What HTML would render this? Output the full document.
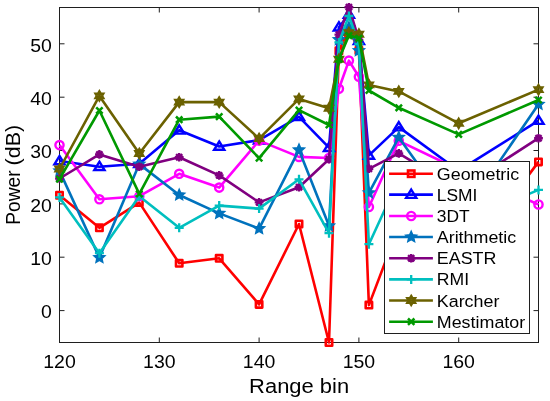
<!DOCTYPE html>
<html><head><meta charset="utf-8"><title>Range bin power</title>
<style>html,body{margin:0;padding:0;background:#fff;}svg{display:block;}text{font-family:"Liberation Sans",Arial,sans-serif;fill:#000;}</style></head><body>
<svg width="550" height="401" viewBox="0 0 550 401">
<rect width="550" height="401" fill="#fff"/>
<rect x="59.5" y="7.5" width="479.0" height="335.0" fill="none" stroke="#1f1f1f" stroke-width="1"/>
<path d="M59.5,342.5 v-5 M59.5,7.5 v5 M159.3,342.5 v-5 M159.3,7.5 v5 M259.1,342.5 v-5 M259.1,7.5 v5 M358.9,342.5 v-5 M358.9,7.5 v5 M458.7,342.5 v-5 M458.7,7.5 v5 M59.5,310.6 h5 M538.5,310.6 h-5 M59.5,257.2 h5 M538.5,257.2 h-5 M59.5,203.9 h5 M538.5,203.9 h-5 M59.5,150.5 h5 M538.5,150.5 h-5 M59.5,97.2 h5 M538.5,97.2 h-5 M59.5,43.8 h5 M538.5,43.8 h-5" stroke="#1f1f1f" stroke-width="1" fill="none"/>
<g fill="none" stroke-linejoin="round" stroke-linecap="butt">
<polyline points="59.5,195.2 99.4,227.8 139.3,202.6 179.2,263.3 219.2,258.3 259.1,304.4 299.0,224.0 329.0,342.5 338.9,50.8 348.9,29.0 358.9,50.5 368.9,305.1 398.8,226.4 458.7,268.8 538.5,161.9" stroke="#ff0000" stroke-width="2.6" fill="none"/>
<rect transform="translate(59.5,195.2)" x="-3.2" y="-3.2" width="6.4" height="6.4" fill="none" stroke="#ff0000" stroke-width="2.6"/>
<rect transform="translate(99.4,227.8)" x="-3.2" y="-3.2" width="6.4" height="6.4" fill="none" stroke="#ff0000" stroke-width="2.6"/>
<rect transform="translate(139.3,202.6)" x="-3.2" y="-3.2" width="6.4" height="6.4" fill="none" stroke="#ff0000" stroke-width="2.6"/>
<rect transform="translate(179.2,263.3)" x="-3.2" y="-3.2" width="6.4" height="6.4" fill="none" stroke="#ff0000" stroke-width="2.6"/>
<rect transform="translate(219.2,258.3)" x="-3.2" y="-3.2" width="6.4" height="6.4" fill="none" stroke="#ff0000" stroke-width="2.6"/>
<rect transform="translate(259.1,304.4)" x="-3.2" y="-3.2" width="6.4" height="6.4" fill="none" stroke="#ff0000" stroke-width="2.6"/>
<rect transform="translate(299.0,224.0)" x="-3.2" y="-3.2" width="6.4" height="6.4" fill="none" stroke="#ff0000" stroke-width="2.6"/>
<rect transform="translate(329.0,342.5)" x="-3.2" y="-3.2" width="6.4" height="6.4" fill="none" stroke="#ff0000" stroke-width="2.6"/>
<rect transform="translate(338.9,50.8)" x="-3.2" y="-3.2" width="6.4" height="6.4" fill="none" stroke="#ff0000" stroke-width="2.6"/>
<rect transform="translate(348.9,29.0)" x="-3.2" y="-3.2" width="6.4" height="6.4" fill="none" stroke="#ff0000" stroke-width="2.6"/>
<rect transform="translate(358.9,50.5)" x="-3.2" y="-3.2" width="6.4" height="6.4" fill="none" stroke="#ff0000" stroke-width="2.6"/>
<rect transform="translate(368.9,305.1)" x="-3.2" y="-3.2" width="6.4" height="6.4" fill="none" stroke="#ff0000" stroke-width="2.6"/>
<rect transform="translate(398.8,226.4)" x="-3.2" y="-3.2" width="6.4" height="6.4" fill="none" stroke="#ff0000" stroke-width="2.6"/>
<rect transform="translate(458.7,268.8)" x="-3.2" y="-3.2" width="6.4" height="6.4" fill="none" stroke="#ff0000" stroke-width="2.6"/>
<rect transform="translate(538.5,161.9)" x="-3.2" y="-3.2" width="6.4" height="6.4" fill="none" stroke="#ff0000" stroke-width="2.6"/>
<polyline points="59.5,161.0 99.4,166.7 139.3,163.7 179.2,130.3 219.2,146.5 259.1,140.2 299.0,116.8 329.0,147.7 338.9,27.2 348.9,14.5 358.9,40.7 368.9,155.4 398.8,127.1 458.7,170.7 538.5,120.6" stroke="#0000ff" stroke-width="2.6" fill="none"/>
<path transform="translate(59.5,161.0)" d="M0,-5.0 L5.1,3.3 L-5.1,3.3 Z" fill="none" stroke="#0000ff" stroke-width="2.4" stroke-linejoin="miter"/>
<path transform="translate(99.4,166.7)" d="M0,-5.0 L5.1,3.3 L-5.1,3.3 Z" fill="none" stroke="#0000ff" stroke-width="2.4" stroke-linejoin="miter"/>
<path transform="translate(139.3,163.7)" d="M0,-5.0 L5.1,3.3 L-5.1,3.3 Z" fill="none" stroke="#0000ff" stroke-width="2.4" stroke-linejoin="miter"/>
<path transform="translate(179.2,130.3)" d="M0,-5.0 L5.1,3.3 L-5.1,3.3 Z" fill="none" stroke="#0000ff" stroke-width="2.4" stroke-linejoin="miter"/>
<path transform="translate(219.2,146.5)" d="M0,-5.0 L5.1,3.3 L-5.1,3.3 Z" fill="none" stroke="#0000ff" stroke-width="2.4" stroke-linejoin="miter"/>
<path transform="translate(259.1,140.2)" d="M0,-5.0 L5.1,3.3 L-5.1,3.3 Z" fill="none" stroke="#0000ff" stroke-width="2.4" stroke-linejoin="miter"/>
<path transform="translate(299.0,116.8)" d="M0,-5.0 L5.1,3.3 L-5.1,3.3 Z" fill="none" stroke="#0000ff" stroke-width="2.4" stroke-linejoin="miter"/>
<path transform="translate(329.0,147.7)" d="M0,-5.0 L5.1,3.3 L-5.1,3.3 Z" fill="none" stroke="#0000ff" stroke-width="2.4" stroke-linejoin="miter"/>
<path transform="translate(338.9,27.2)" d="M0,-5.0 L5.1,3.3 L-5.1,3.3 Z" fill="none" stroke="#0000ff" stroke-width="2.4" stroke-linejoin="miter"/>
<path transform="translate(348.9,14.5)" d="M0,-5.0 L5.1,3.3 L-5.1,3.3 Z" fill="none" stroke="#0000ff" stroke-width="2.4" stroke-linejoin="miter"/>
<path transform="translate(358.9,40.7)" d="M0,-5.0 L5.1,3.3 L-5.1,3.3 Z" fill="none" stroke="#0000ff" stroke-width="2.4" stroke-linejoin="miter"/>
<path transform="translate(368.9,155.4)" d="M0,-5.0 L5.1,3.3 L-5.1,3.3 Z" fill="none" stroke="#0000ff" stroke-width="2.4" stroke-linejoin="miter"/>
<path transform="translate(398.8,127.1)" d="M0,-5.0 L5.1,3.3 L-5.1,3.3 Z" fill="none" stroke="#0000ff" stroke-width="2.4" stroke-linejoin="miter"/>
<path transform="translate(458.7,170.7)" d="M0,-5.0 L5.1,3.3 L-5.1,3.3 Z" fill="none" stroke="#0000ff" stroke-width="2.4" stroke-linejoin="miter"/>
<path transform="translate(538.5,120.6)" d="M0,-5.0 L5.1,3.3 L-5.1,3.3 Z" fill="none" stroke="#0000ff" stroke-width="2.4" stroke-linejoin="miter"/>
<polyline points="59.5,145.1 99.4,199.3 139.3,196.2 179.2,173.8 219.2,187.6 259.1,140.6 299.0,156.9 329.0,158.0 338.9,88.7 348.9,60.6 358.9,76.8 368.9,207.0 398.8,140.8 458.7,169.5 538.5,204.5" stroke="#ff00ff" stroke-width="2.6" fill="none"/>
<circle transform="translate(59.5,145.1)" r="4.1" fill="none" stroke="#ff00ff" stroke-width="2.4"/>
<circle transform="translate(99.4,199.3)" r="4.1" fill="none" stroke="#ff00ff" stroke-width="2.4"/>
<circle transform="translate(139.3,196.2)" r="4.1" fill="none" stroke="#ff00ff" stroke-width="2.4"/>
<circle transform="translate(179.2,173.8)" r="4.1" fill="none" stroke="#ff00ff" stroke-width="2.4"/>
<circle transform="translate(219.2,187.6)" r="4.1" fill="none" stroke="#ff00ff" stroke-width="2.4"/>
<circle transform="translate(259.1,140.6)" r="4.1" fill="none" stroke="#ff00ff" stroke-width="2.4"/>
<circle transform="translate(299.0,156.9)" r="4.1" fill="none" stroke="#ff00ff" stroke-width="2.4"/>
<circle transform="translate(329.0,158.0)" r="4.1" fill="none" stroke="#ff00ff" stroke-width="2.4"/>
<circle transform="translate(338.9,88.7)" r="4.1" fill="none" stroke="#ff00ff" stroke-width="2.4"/>
<circle transform="translate(348.9,60.6)" r="4.1" fill="none" stroke="#ff00ff" stroke-width="2.4"/>
<circle transform="translate(358.9,76.8)" r="4.1" fill="none" stroke="#ff00ff" stroke-width="2.4"/>
<circle transform="translate(368.9,207.0)" r="4.1" fill="none" stroke="#ff00ff" stroke-width="2.4"/>
<circle transform="translate(398.8,140.8)" r="4.1" fill="none" stroke="#ff00ff" stroke-width="2.4"/>
<circle transform="translate(458.7,169.5)" r="4.1" fill="none" stroke="#ff00ff" stroke-width="2.4"/>
<circle transform="translate(538.5,204.5)" r="4.1" fill="none" stroke="#ff00ff" stroke-width="2.4"/>
<polyline points="59.5,170.9 99.4,257.6 139.3,164.1 179.2,195.0 219.2,213.4 259.1,228.6 299.0,149.9 329.0,225.8 338.9,39.6 348.9,27.5 358.9,50.6 368.9,192.8 398.8,137.4 458.7,221.0 538.5,104.3" stroke="#0072bd" stroke-width="2.6" fill="none"/>
<polygon transform="translate(59.5,170.9)" points="0.00,-5.80 1.59,-2.18 5.52,-1.79 2.57,0.83 3.41,4.69 0.00,2.70 -3.41,4.69 -2.57,0.83 -5.52,-1.79 -1.59,-2.18" fill="#0072bd" stroke="#0072bd" stroke-width="1.4" stroke-linejoin="miter"/>
<polygon transform="translate(99.4,257.6)" points="0.00,-5.80 1.59,-2.18 5.52,-1.79 2.57,0.83 3.41,4.69 0.00,2.70 -3.41,4.69 -2.57,0.83 -5.52,-1.79 -1.59,-2.18" fill="#0072bd" stroke="#0072bd" stroke-width="1.4" stroke-linejoin="miter"/>
<polygon transform="translate(139.3,164.1)" points="0.00,-5.80 1.59,-2.18 5.52,-1.79 2.57,0.83 3.41,4.69 0.00,2.70 -3.41,4.69 -2.57,0.83 -5.52,-1.79 -1.59,-2.18" fill="#0072bd" stroke="#0072bd" stroke-width="1.4" stroke-linejoin="miter"/>
<polygon transform="translate(179.2,195.0)" points="0.00,-5.80 1.59,-2.18 5.52,-1.79 2.57,0.83 3.41,4.69 0.00,2.70 -3.41,4.69 -2.57,0.83 -5.52,-1.79 -1.59,-2.18" fill="#0072bd" stroke="#0072bd" stroke-width="1.4" stroke-linejoin="miter"/>
<polygon transform="translate(219.2,213.4)" points="0.00,-5.80 1.59,-2.18 5.52,-1.79 2.57,0.83 3.41,4.69 0.00,2.70 -3.41,4.69 -2.57,0.83 -5.52,-1.79 -1.59,-2.18" fill="#0072bd" stroke="#0072bd" stroke-width="1.4" stroke-linejoin="miter"/>
<polygon transform="translate(259.1,228.6)" points="0.00,-5.80 1.59,-2.18 5.52,-1.79 2.57,0.83 3.41,4.69 0.00,2.70 -3.41,4.69 -2.57,0.83 -5.52,-1.79 -1.59,-2.18" fill="#0072bd" stroke="#0072bd" stroke-width="1.4" stroke-linejoin="miter"/>
<polygon transform="translate(299.0,149.9)" points="0.00,-5.80 1.59,-2.18 5.52,-1.79 2.57,0.83 3.41,4.69 0.00,2.70 -3.41,4.69 -2.57,0.83 -5.52,-1.79 -1.59,-2.18" fill="#0072bd" stroke="#0072bd" stroke-width="1.4" stroke-linejoin="miter"/>
<polygon transform="translate(329.0,225.8)" points="0.00,-5.80 1.59,-2.18 5.52,-1.79 2.57,0.83 3.41,4.69 0.00,2.70 -3.41,4.69 -2.57,0.83 -5.52,-1.79 -1.59,-2.18" fill="#0072bd" stroke="#0072bd" stroke-width="1.4" stroke-linejoin="miter"/>
<polygon transform="translate(338.9,39.6)" points="0.00,-5.80 1.59,-2.18 5.52,-1.79 2.57,0.83 3.41,4.69 0.00,2.70 -3.41,4.69 -2.57,0.83 -5.52,-1.79 -1.59,-2.18" fill="#0072bd" stroke="#0072bd" stroke-width="1.4" stroke-linejoin="miter"/>
<polygon transform="translate(348.9,27.5)" points="0.00,-5.80 1.59,-2.18 5.52,-1.79 2.57,0.83 3.41,4.69 0.00,2.70 -3.41,4.69 -2.57,0.83 -5.52,-1.79 -1.59,-2.18" fill="#0072bd" stroke="#0072bd" stroke-width="1.4" stroke-linejoin="miter"/>
<polygon transform="translate(358.9,50.6)" points="0.00,-5.80 1.59,-2.18 5.52,-1.79 2.57,0.83 3.41,4.69 0.00,2.70 -3.41,4.69 -2.57,0.83 -5.52,-1.79 -1.59,-2.18" fill="#0072bd" stroke="#0072bd" stroke-width="1.4" stroke-linejoin="miter"/>
<polygon transform="translate(368.9,192.8)" points="0.00,-5.80 1.59,-2.18 5.52,-1.79 2.57,0.83 3.41,4.69 0.00,2.70 -3.41,4.69 -2.57,0.83 -5.52,-1.79 -1.59,-2.18" fill="#0072bd" stroke="#0072bd" stroke-width="1.4" stroke-linejoin="miter"/>
<polygon transform="translate(398.8,137.4)" points="0.00,-5.80 1.59,-2.18 5.52,-1.79 2.57,0.83 3.41,4.69 0.00,2.70 -3.41,4.69 -2.57,0.83 -5.52,-1.79 -1.59,-2.18" fill="#0072bd" stroke="#0072bd" stroke-width="1.4" stroke-linejoin="miter"/>
<polygon transform="translate(458.7,221.0)" points="0.00,-5.80 1.59,-2.18 5.52,-1.79 2.57,0.83 3.41,4.69 0.00,2.70 -3.41,4.69 -2.57,0.83 -5.52,-1.79 -1.59,-2.18" fill="#0072bd" stroke="#0072bd" stroke-width="1.4" stroke-linejoin="miter"/>
<polygon transform="translate(538.5,104.3)" points="0.00,-5.80 1.59,-2.18 5.52,-1.79 2.57,0.83 3.41,4.69 0.00,2.70 -3.41,4.69 -2.57,0.83 -5.52,-1.79 -1.59,-2.18" fill="#0072bd" stroke="#0072bd" stroke-width="1.4" stroke-linejoin="miter"/>
<polyline points="59.5,178.5 99.4,154.4 139.3,166.8 179.2,157.2 219.2,175.4 259.1,202.4 299.0,187.2 329.0,159.2 338.9,34.6 348.9,7.2 358.9,40.0 368.9,168.8 398.8,153.4 458.7,189.6 538.5,138.2" stroke="#800080" stroke-width="2.6" fill="none"/>
<path transform="translate(59.5,178.5)" d="M-4.4,0 H4.4 M0,-4.3 V4.3 M-3.1,-3.1 L3.1,3.1 M-3.1,3.1 L3.1,-3.1" fill="none" stroke="#800080" stroke-width="2.4"/>
<path transform="translate(99.4,154.4)" d="M-4.4,0 H4.4 M0,-4.3 V4.3 M-3.1,-3.1 L3.1,3.1 M-3.1,3.1 L3.1,-3.1" fill="none" stroke="#800080" stroke-width="2.4"/>
<path transform="translate(139.3,166.8)" d="M-4.4,0 H4.4 M0,-4.3 V4.3 M-3.1,-3.1 L3.1,3.1 M-3.1,3.1 L3.1,-3.1" fill="none" stroke="#800080" stroke-width="2.4"/>
<path transform="translate(179.2,157.2)" d="M-4.4,0 H4.4 M0,-4.3 V4.3 M-3.1,-3.1 L3.1,3.1 M-3.1,3.1 L3.1,-3.1" fill="none" stroke="#800080" stroke-width="2.4"/>
<path transform="translate(219.2,175.4)" d="M-4.4,0 H4.4 M0,-4.3 V4.3 M-3.1,-3.1 L3.1,3.1 M-3.1,3.1 L3.1,-3.1" fill="none" stroke="#800080" stroke-width="2.4"/>
<path transform="translate(259.1,202.4)" d="M-4.4,0 H4.4 M0,-4.3 V4.3 M-3.1,-3.1 L3.1,3.1 M-3.1,3.1 L3.1,-3.1" fill="none" stroke="#800080" stroke-width="2.4"/>
<path transform="translate(299.0,187.2)" d="M-4.4,0 H4.4 M0,-4.3 V4.3 M-3.1,-3.1 L3.1,3.1 M-3.1,3.1 L3.1,-3.1" fill="none" stroke="#800080" stroke-width="2.4"/>
<path transform="translate(329.0,159.2)" d="M-4.4,0 H4.4 M0,-4.3 V4.3 M-3.1,-3.1 L3.1,3.1 M-3.1,3.1 L3.1,-3.1" fill="none" stroke="#800080" stroke-width="2.4"/>
<path transform="translate(338.9,34.6)" d="M-4.4,0 H4.4 M0,-4.3 V4.3 M-3.1,-3.1 L3.1,3.1 M-3.1,3.1 L3.1,-3.1" fill="none" stroke="#800080" stroke-width="2.4"/>
<path transform="translate(348.9,7.2)" d="M-4.4,0 H4.4 M0,-4.3 V4.3 M-3.1,-3.1 L3.1,3.1 M-3.1,3.1 L3.1,-3.1" fill="none" stroke="#800080" stroke-width="2.4"/>
<path transform="translate(358.9,40.0)" d="M-4.4,0 H4.4 M0,-4.3 V4.3 M-3.1,-3.1 L3.1,3.1 M-3.1,3.1 L3.1,-3.1" fill="none" stroke="#800080" stroke-width="2.4"/>
<path transform="translate(368.9,168.8)" d="M-4.4,0 H4.4 M0,-4.3 V4.3 M-3.1,-3.1 L3.1,3.1 M-3.1,3.1 L3.1,-3.1" fill="none" stroke="#800080" stroke-width="2.4"/>
<path transform="translate(398.8,153.4)" d="M-4.4,0 H4.4 M0,-4.3 V4.3 M-3.1,-3.1 L3.1,3.1 M-3.1,3.1 L3.1,-3.1" fill="none" stroke="#800080" stroke-width="2.4"/>
<path transform="translate(458.7,189.6)" d="M-4.4,0 H4.4 M0,-4.3 V4.3 M-3.1,-3.1 L3.1,3.1 M-3.1,3.1 L3.1,-3.1" fill="none" stroke="#800080" stroke-width="2.4"/>
<path transform="translate(538.5,138.2)" d="M-4.4,0 H4.4 M0,-4.3 V4.3 M-3.1,-3.1 L3.1,3.1 M-3.1,3.1 L3.1,-3.1" fill="none" stroke="#800080" stroke-width="2.4"/>
<polyline points="59.5,197.4 99.4,253.2 139.3,196.2 179.2,227.8 219.2,205.6 259.1,208.6 299.0,179.3 329.0,233.2 338.9,42.4 348.9,16.0 358.9,44.0 368.9,244.2 398.8,179.2 458.7,224.0 538.5,189.9" stroke="#00bfbf" stroke-width="2.6" fill="none"/>
<path transform="translate(59.5,197.4)" d="M-4.5,0 H4.5 M0,-4.5 V4.5" fill="none" stroke="#00bfbf" stroke-width="2.3"/>
<path transform="translate(99.4,253.2)" d="M-4.5,0 H4.5 M0,-4.5 V4.5" fill="none" stroke="#00bfbf" stroke-width="2.3"/>
<path transform="translate(139.3,196.2)" d="M-4.5,0 H4.5 M0,-4.5 V4.5" fill="none" stroke="#00bfbf" stroke-width="2.3"/>
<path transform="translate(179.2,227.8)" d="M-4.5,0 H4.5 M0,-4.5 V4.5" fill="none" stroke="#00bfbf" stroke-width="2.3"/>
<path transform="translate(219.2,205.6)" d="M-4.5,0 H4.5 M0,-4.5 V4.5" fill="none" stroke="#00bfbf" stroke-width="2.3"/>
<path transform="translate(259.1,208.6)" d="M-4.5,0 H4.5 M0,-4.5 V4.5" fill="none" stroke="#00bfbf" stroke-width="2.3"/>
<path transform="translate(299.0,179.3)" d="M-4.5,0 H4.5 M0,-4.5 V4.5" fill="none" stroke="#00bfbf" stroke-width="2.3"/>
<path transform="translate(329.0,233.2)" d="M-4.5,0 H4.5 M0,-4.5 V4.5" fill="none" stroke="#00bfbf" stroke-width="2.3"/>
<path transform="translate(338.9,42.4)" d="M-4.5,0 H4.5 M0,-4.5 V4.5" fill="none" stroke="#00bfbf" stroke-width="2.3"/>
<path transform="translate(348.9,16.0)" d="M-4.5,0 H4.5 M0,-4.5 V4.5" fill="none" stroke="#00bfbf" stroke-width="2.3"/>
<path transform="translate(358.9,44.0)" d="M-4.5,0 H4.5 M0,-4.5 V4.5" fill="none" stroke="#00bfbf" stroke-width="2.3"/>
<path transform="translate(368.9,244.2)" d="M-4.5,0 H4.5 M0,-4.5 V4.5" fill="none" stroke="#00bfbf" stroke-width="2.3"/>
<path transform="translate(398.8,179.2)" d="M-4.5,0 H4.5 M0,-4.5 V4.5" fill="none" stroke="#00bfbf" stroke-width="2.3"/>
<path transform="translate(458.7,224.0)" d="M-4.5,0 H4.5 M0,-4.5 V4.5" fill="none" stroke="#00bfbf" stroke-width="2.3"/>
<path transform="translate(538.5,189.9)" d="M-4.5,0 H4.5 M0,-4.5 V4.5" fill="none" stroke="#00bfbf" stroke-width="2.3"/>
<polyline points="59.5,169.0 99.4,95.9 139.3,153.5 179.2,102.1 219.2,102.1 259.1,138.6 299.0,98.9 329.0,108.2 338.9,59.3 348.9,32.6 358.9,34.2 368.9,84.9 398.8,91.4 458.7,123.3 538.5,89.6" stroke="#6b6100" stroke-width="2.6" fill="none"/>
<polygon transform="translate(59.5,169.0)" points="0.00,-4.20 1.23,-2.12 3.64,-2.10 2.45,0.00 3.64,2.10 1.23,2.12 0.00,4.20 -1.22,2.12 -3.64,2.10 -2.45,0.00 -3.64,-2.10 -1.23,-2.12" fill="#6b6100" fill-opacity="0.6" stroke="#6b6100" stroke-width="2.7" stroke-linejoin="miter"/>
<polygon transform="translate(99.4,95.9)" points="0.00,-4.20 1.23,-2.12 3.64,-2.10 2.45,0.00 3.64,2.10 1.23,2.12 0.00,4.20 -1.22,2.12 -3.64,2.10 -2.45,0.00 -3.64,-2.10 -1.23,-2.12" fill="#6b6100" fill-opacity="0.6" stroke="#6b6100" stroke-width="2.7" stroke-linejoin="miter"/>
<polygon transform="translate(139.3,153.5)" points="0.00,-4.20 1.23,-2.12 3.64,-2.10 2.45,0.00 3.64,2.10 1.23,2.12 0.00,4.20 -1.22,2.12 -3.64,2.10 -2.45,0.00 -3.64,-2.10 -1.23,-2.12" fill="#6b6100" fill-opacity="0.6" stroke="#6b6100" stroke-width="2.7" stroke-linejoin="miter"/>
<polygon transform="translate(179.2,102.1)" points="0.00,-4.20 1.23,-2.12 3.64,-2.10 2.45,0.00 3.64,2.10 1.23,2.12 0.00,4.20 -1.22,2.12 -3.64,2.10 -2.45,0.00 -3.64,-2.10 -1.23,-2.12" fill="#6b6100" fill-opacity="0.6" stroke="#6b6100" stroke-width="2.7" stroke-linejoin="miter"/>
<polygon transform="translate(219.2,102.1)" points="0.00,-4.20 1.23,-2.12 3.64,-2.10 2.45,0.00 3.64,2.10 1.23,2.12 0.00,4.20 -1.22,2.12 -3.64,2.10 -2.45,0.00 -3.64,-2.10 -1.23,-2.12" fill="#6b6100" fill-opacity="0.6" stroke="#6b6100" stroke-width="2.7" stroke-linejoin="miter"/>
<polygon transform="translate(259.1,138.6)" points="0.00,-4.20 1.23,-2.12 3.64,-2.10 2.45,0.00 3.64,2.10 1.23,2.12 0.00,4.20 -1.22,2.12 -3.64,2.10 -2.45,0.00 -3.64,-2.10 -1.23,-2.12" fill="#6b6100" fill-opacity="0.6" stroke="#6b6100" stroke-width="2.7" stroke-linejoin="miter"/>
<polygon transform="translate(299.0,98.9)" points="0.00,-4.20 1.23,-2.12 3.64,-2.10 2.45,0.00 3.64,2.10 1.23,2.12 0.00,4.20 -1.22,2.12 -3.64,2.10 -2.45,0.00 -3.64,-2.10 -1.23,-2.12" fill="#6b6100" fill-opacity="0.6" stroke="#6b6100" stroke-width="2.7" stroke-linejoin="miter"/>
<polygon transform="translate(329.0,108.2)" points="0.00,-4.20 1.23,-2.12 3.64,-2.10 2.45,0.00 3.64,2.10 1.23,2.12 0.00,4.20 -1.22,2.12 -3.64,2.10 -2.45,0.00 -3.64,-2.10 -1.23,-2.12" fill="#6b6100" fill-opacity="0.6" stroke="#6b6100" stroke-width="2.7" stroke-linejoin="miter"/>
<polygon transform="translate(338.9,59.3)" points="0.00,-4.20 1.23,-2.12 3.64,-2.10 2.45,0.00 3.64,2.10 1.23,2.12 0.00,4.20 -1.22,2.12 -3.64,2.10 -2.45,0.00 -3.64,-2.10 -1.23,-2.12" fill="#6b6100" fill-opacity="0.6" stroke="#6b6100" stroke-width="2.7" stroke-linejoin="miter"/>
<polygon transform="translate(348.9,32.6)" points="0.00,-4.20 1.23,-2.12 3.64,-2.10 2.45,0.00 3.64,2.10 1.23,2.12 0.00,4.20 -1.22,2.12 -3.64,2.10 -2.45,0.00 -3.64,-2.10 -1.23,-2.12" fill="#6b6100" fill-opacity="0.6" stroke="#6b6100" stroke-width="2.7" stroke-linejoin="miter"/>
<polygon transform="translate(358.9,34.2)" points="0.00,-4.20 1.23,-2.12 3.64,-2.10 2.45,0.00 3.64,2.10 1.23,2.12 0.00,4.20 -1.22,2.12 -3.64,2.10 -2.45,0.00 -3.64,-2.10 -1.23,-2.12" fill="#6b6100" fill-opacity="0.6" stroke="#6b6100" stroke-width="2.7" stroke-linejoin="miter"/>
<polygon transform="translate(368.9,84.9)" points="0.00,-4.20 1.23,-2.12 3.64,-2.10 2.45,0.00 3.64,2.10 1.23,2.12 0.00,4.20 -1.22,2.12 -3.64,2.10 -2.45,0.00 -3.64,-2.10 -1.23,-2.12" fill="#6b6100" fill-opacity="0.6" stroke="#6b6100" stroke-width="2.7" stroke-linejoin="miter"/>
<polygon transform="translate(398.8,91.4)" points="0.00,-4.20 1.23,-2.12 3.64,-2.10 2.45,0.00 3.64,2.10 1.23,2.12 0.00,4.20 -1.22,2.12 -3.64,2.10 -2.45,0.00 -3.64,-2.10 -1.23,-2.12" fill="#6b6100" fill-opacity="0.6" stroke="#6b6100" stroke-width="2.7" stroke-linejoin="miter"/>
<polygon transform="translate(458.7,123.3)" points="0.00,-4.20 1.23,-2.12 3.64,-2.10 2.45,0.00 3.64,2.10 1.23,2.12 0.00,4.20 -1.22,2.12 -3.64,2.10 -2.45,0.00 -3.64,-2.10 -1.23,-2.12" fill="#6b6100" fill-opacity="0.6" stroke="#6b6100" stroke-width="2.7" stroke-linejoin="miter"/>
<polygon transform="translate(538.5,89.6)" points="0.00,-4.20 1.23,-2.12 3.64,-2.10 2.45,0.00 3.64,2.10 1.23,2.12 0.00,4.20 -1.22,2.12 -3.64,2.10 -2.45,0.00 -3.64,-2.10 -1.23,-2.12" fill="#6b6100" fill-opacity="0.6" stroke="#6b6100" stroke-width="2.7" stroke-linejoin="miter"/>
<polyline points="59.5,179.2 99.4,110.5 139.3,193.9 179.2,119.7 219.2,116.6 259.1,158.1 299.0,110.1 329.0,125.0 338.9,59.3 348.9,35.6 358.9,38.3 368.9,90.5 398.8,107.8 458.7,134.4 538.5,100.0" stroke="#009900" stroke-width="2.6" fill="none"/>
<path transform="translate(59.5,179.2)" d="M-3.2,-3.2 L3.2,3.2 M-3.2,3.2 L3.2,-3.2" fill="none" stroke="#009900" stroke-width="2.5"/>
<path transform="translate(99.4,110.5)" d="M-3.2,-3.2 L3.2,3.2 M-3.2,3.2 L3.2,-3.2" fill="none" stroke="#009900" stroke-width="2.5"/>
<path transform="translate(139.3,193.9)" d="M-3.2,-3.2 L3.2,3.2 M-3.2,3.2 L3.2,-3.2" fill="none" stroke="#009900" stroke-width="2.5"/>
<path transform="translate(179.2,119.7)" d="M-3.2,-3.2 L3.2,3.2 M-3.2,3.2 L3.2,-3.2" fill="none" stroke="#009900" stroke-width="2.5"/>
<path transform="translate(219.2,116.6)" d="M-3.2,-3.2 L3.2,3.2 M-3.2,3.2 L3.2,-3.2" fill="none" stroke="#009900" stroke-width="2.5"/>
<path transform="translate(259.1,158.1)" d="M-3.2,-3.2 L3.2,3.2 M-3.2,3.2 L3.2,-3.2" fill="none" stroke="#009900" stroke-width="2.5"/>
<path transform="translate(299.0,110.1)" d="M-3.2,-3.2 L3.2,3.2 M-3.2,3.2 L3.2,-3.2" fill="none" stroke="#009900" stroke-width="2.5"/>
<path transform="translate(329.0,125.0)" d="M-3.2,-3.2 L3.2,3.2 M-3.2,3.2 L3.2,-3.2" fill="none" stroke="#009900" stroke-width="2.5"/>
<path transform="translate(338.9,59.3)" d="M-3.2,-3.2 L3.2,3.2 M-3.2,3.2 L3.2,-3.2" fill="none" stroke="#009900" stroke-width="2.5"/>
<path transform="translate(348.9,35.6)" d="M-3.2,-3.2 L3.2,3.2 M-3.2,3.2 L3.2,-3.2" fill="none" stroke="#009900" stroke-width="2.5"/>
<path transform="translate(358.9,38.3)" d="M-3.2,-3.2 L3.2,3.2 M-3.2,3.2 L3.2,-3.2" fill="none" stroke="#009900" stroke-width="2.5"/>
<path transform="translate(368.9,90.5)" d="M-3.2,-3.2 L3.2,3.2 M-3.2,3.2 L3.2,-3.2" fill="none" stroke="#009900" stroke-width="2.5"/>
<path transform="translate(398.8,107.8)" d="M-3.2,-3.2 L3.2,3.2 M-3.2,3.2 L3.2,-3.2" fill="none" stroke="#009900" stroke-width="2.5"/>
<path transform="translate(458.7,134.4)" d="M-3.2,-3.2 L3.2,3.2 M-3.2,3.2 L3.2,-3.2" fill="none" stroke="#009900" stroke-width="2.5"/>
<path transform="translate(538.5,100.0)" d="M-3.2,-3.2 L3.2,3.2 M-3.2,3.2 L3.2,-3.2" fill="none" stroke="#009900" stroke-width="2.5"/>
</g>
<text x="59.5" y="367.7" font-size="17.6" text-anchor="middle" textLength="32.5" lengthAdjust="spacingAndGlyphs">120</text>
<text x="159.3" y="367.7" font-size="17.6" text-anchor="middle" textLength="32.5" lengthAdjust="spacingAndGlyphs">130</text>
<text x="259.1" y="367.7" font-size="17.6" text-anchor="middle" textLength="32.5" lengthAdjust="spacingAndGlyphs">140</text>
<text x="358.9" y="367.7" font-size="17.6" text-anchor="middle" textLength="32.5" lengthAdjust="spacingAndGlyphs">150</text>
<text x="458.7" y="367.7" font-size="17.6" text-anchor="middle" textLength="32.5" lengthAdjust="spacingAndGlyphs">160</text>
<text x="51.8" y="318.2" font-size="17.6" text-anchor="end" textLength="10.8" lengthAdjust="spacingAndGlyphs">0</text>
<text x="51.8" y="264.9" font-size="17.6" text-anchor="end" textLength="21.6" lengthAdjust="spacingAndGlyphs">10</text>
<text x="51.8" y="211.6" font-size="17.6" text-anchor="end" textLength="21.6" lengthAdjust="spacingAndGlyphs">20</text>
<text x="51.8" y="158.2" font-size="17.6" text-anchor="end" textLength="21.6" lengthAdjust="spacingAndGlyphs">30</text>
<text x="51.8" y="104.9" font-size="17.6" text-anchor="end" textLength="21.6" lengthAdjust="spacingAndGlyphs">40</text>
<text x="51.8" y="51.5" font-size="17.6" text-anchor="end" textLength="21.6" lengthAdjust="spacingAndGlyphs">50</text>
<text x="299.1" y="392.9" font-size="19.6" text-anchor="middle" textLength="100" lengthAdjust="spacingAndGlyphs">Range bin</text>
<text transform="translate(20.2,224.8) rotate(-90)" font-size="20.3" text-anchor="start"><tspan textLength="54.4" lengthAdjust="spacingAndGlyphs">Power</tspan><tspan dx="5.0" textLength="40.5" lengthAdjust="spacingAndGlyphs">(dB)</tspan></text>
<rect x="384.5" y="161.5" width="145.0" height="172.0" fill="#fff" stroke="#1f1f1f" stroke-width="1"/>
<path d="M389.1,173.7 H432.9" stroke="#ff0000" stroke-width="2.6" fill="none"/>
<rect transform="translate(411.2,173.7)" x="-3.2" y="-3.2" width="6.4" height="6.4" fill="none" stroke="#ff0000" stroke-width="2.6"/>
<text x="436.8" y="179.7" font-size="17.4" textLength="82.4" lengthAdjust="spacingAndGlyphs">Geometric</text>
<path d="M389.1,194.6 H432.9" stroke="#0000ff" stroke-width="2.6" fill="none"/>
<path transform="translate(411.2,194.6)" d="M0,-5.0 L5.1,3.3 L-5.1,3.3 Z" fill="none" stroke="#0000ff" stroke-width="2.4" stroke-linejoin="miter"/>
<text x="436.8" y="200.6" font-size="17.4" textLength="40.6" lengthAdjust="spacingAndGlyphs">LSMI</text>
<path d="M389.1,216.0 H432.9" stroke="#ff00ff" stroke-width="2.6" fill="none"/>
<circle transform="translate(411.2,216.0)" r="4.1" fill="none" stroke="#ff00ff" stroke-width="2.4"/>
<text x="436.8" y="222.0" font-size="17.4" textLength="32.9" lengthAdjust="spacingAndGlyphs">3DT</text>
<path d="M389.1,237.0 H432.9" stroke="#0072bd" stroke-width="2.6" fill="none"/>
<polygon transform="translate(411.2,237.0)" points="0.00,-5.80 1.59,-2.18 5.52,-1.79 2.57,0.83 3.41,4.69 0.00,2.70 -3.41,4.69 -2.57,0.83 -5.52,-1.79 -1.59,-2.18" fill="#0072bd" stroke="#0072bd" stroke-width="1.4" stroke-linejoin="miter"/>
<text x="436.8" y="243.0" font-size="17.4" textLength="79.4" lengthAdjust="spacingAndGlyphs">Arithmetic</text>
<path d="M389.1,258.2 H432.9" stroke="#800080" stroke-width="2.6" fill="none"/>
<path transform="translate(411.2,258.2)" d="M-4.4,0 H4.4 M0,-4.3 V4.3 M-3.1,-3.1 L3.1,3.1 M-3.1,3.1 L3.1,-3.1" fill="none" stroke="#800080" stroke-width="2.4"/>
<text x="436.8" y="264.2" font-size="17.4" textLength="59.6" lengthAdjust="spacingAndGlyphs">EASTR</text>
<path d="M389.1,279.4 H432.9" stroke="#00bfbf" stroke-width="2.6" fill="none"/>
<path transform="translate(411.2,279.4)" d="M-4.5,0 H4.5 M0,-4.5 V4.5" fill="none" stroke="#00bfbf" stroke-width="2.3"/>
<text x="436.8" y="285.4" font-size="17.4" textLength="32.3" lengthAdjust="spacingAndGlyphs">RMI</text>
<path d="M389.1,300.5 H432.9" stroke="#6b6100" stroke-width="2.6" fill="none"/>
<polygon transform="translate(411.2,300.5)" points="0.00,-4.20 1.23,-2.12 3.64,-2.10 2.45,0.00 3.64,2.10 1.23,2.12 0.00,4.20 -1.22,2.12 -3.64,2.10 -2.45,0.00 -3.64,-2.10 -1.23,-2.12" fill="#6b6100" fill-opacity="0.6" stroke="#6b6100" stroke-width="2.7" stroke-linejoin="miter"/>
<text x="436.8" y="306.5" font-size="17.4" textLength="62.6" lengthAdjust="spacingAndGlyphs">Karcher</text>
<path d="M389.1,321.7 H432.9" stroke="#009900" stroke-width="2.6" fill="none"/>
<path transform="translate(411.2,321.7)" d="M-3.2,-3.2 L3.2,3.2 M-3.2,3.2 L3.2,-3.2" fill="none" stroke="#009900" stroke-width="2.5"/>
<text x="436.8" y="327.7" font-size="17.4" textLength="88.4" lengthAdjust="spacingAndGlyphs">Mestimator</text>
</svg></body></html>
